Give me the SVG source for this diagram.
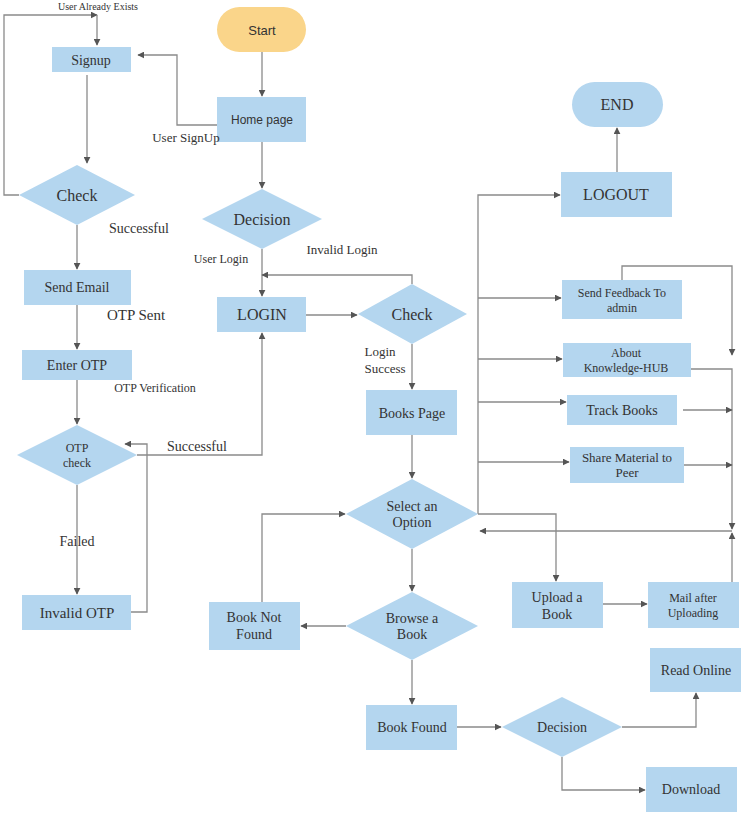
<svg xmlns="http://www.w3.org/2000/svg" width="756" height="825" viewBox="0 0 756 825">
<style>
.n{fill:#b4d6ef}
.t{font-family:"Liberation Serif",serif;fill:#333;text-anchor:middle}
.s{font-family:"Liberation Sans",Arial,sans-serif;fill:#333;text-anchor:middle}
.l{fill:none;stroke:#8a8a8a;stroke-width:1.3}
.a{marker-end:url(#ar)}
</style>
<defs><marker id="ar" viewBox="0 0 10 10" refX="9" refY="5" markerWidth="7" markerHeight="7" orient="auto" markerUnits="userSpaceOnUse"><path d="M0,0L10,5L0,10z" fill="#555"/></marker></defs>
<rect width="756" height="825" fill="#fff"/>
<g id="connectors">
<path class="l a" d="M262,52V96"/>
<path class="l a" d="M217,125H177V55H138"/>
<path class="l a" d="M87,75V163"/>
<path class="l a" d="M19,195H4V15H97"/>
<path class="l a" d="M97,15V45"/>
<path class="l a" d="M77,225V269"/>
<path class="l a" d="M77,305V349"/>
<path class="l a" d="M77,380V424"/>
<path class="l a" d="M77,485V594"/>
<path class="l a" d="M131,612H147V444H125"/>
<path class="l a" d="M137,455H262V333"/>
<path class="l a" d="M262,142V188"/>
<path class="l a" d="M262,249V296"/>
<path class="l a" d="M306,315H357"/>
<path class="l a" d="M412,284V275H262"/>
<path class="l a" d="M412,344V389"/>
<path class="l a" d="M412,435V478"/>
<path class="l a" d="M412,549V591"/>
<path class="l a" d="M346,626H301"/>
<path class="l a" d="M262,602V514H345"/>
<path class="l a" d="M412,660V704"/>
<path class="l a" d="M457,727H501"/>
<path class="l a" d="M622,727H696V693"/>
<path class="l a" d="M562,757V790H645"/>
<path class="l a" d="M478,514H556V581"/>
<path class="l a" d="M603,604H647"/>
<path class="l a" d="M732,582V533"/>
<path class="l a" d="M732,531H480"/>
<path class="l a" d="M478,514V195H560"/>
<path class="l a" d="M478,298H561"/>
<path class="l a" d="M478,359H562"/>
<path class="l a" d="M478,402H566"/>
<path class="l a" d="M478,462H569"/>
<path class="l a" d="M622,280V266H732V355"/>
<path class="l a" d="M691,369H732V529"/>
<path class="l a" d="M683,410H732"/>
<path class="l a" d="M684,465H732"/>
<path class="l a" d="M617,172V128"/>
</g>
<g id="start"><rect x="217" y="7" width="89" height="45" rx="22.5" fill="#fad58a"/><text class="s" x="262" y="35" font-size="13">Start</text></g>
<g id="home"><rect class="n" x="217" y="97" width="89" height="45"/><text class="s" x="262" y="124" font-size="12">Home page</text></g>
<g id="signup"><rect class="n" x="52" y="47" width="79" height="25"/><text class="t" x="91" y="65" font-size="14">Signup</text></g>
<g id="check1"><path class="n" d="M19,195L77,165L135,195L77,225z"/><text class="t" x="77" y="201" font-size="16">Check</text></g>
<g id="decision1"><path class="n" d="M202,219L262,189L322,219L262,249z"/><text class="t" x="262" y="225" font-size="16">Decision</text></g>
<g id="sendemail"><rect class="n" x="24" y="270" width="107" height="35"/><text class="t" x="77" y="292" font-size="14">Send Email</text></g>
<g id="enterotp"><rect class="n" x="22" y="350" width="110" height="30"/><text class="t" x="77" y="370" font-size="14">Enter OTP</text></g>
<g id="otpcheck"><path class="n" d="M17,455L77,425L137,455L77,485z"/><text class="t" x="77" y="452" font-size="12">OTP</text><text class="t" x="77" y="467" font-size="12">check</text></g>
<g id="invalidotp"><rect class="n" x="22" y="595" width="109" height="35"/><text class="t" x="77" y="618" font-size="15">Invalid OTP</text></g>
<g id="login"><rect class="n" x="217" y="297" width="89" height="35"/><text class="t" x="262" y="320" font-size="16">LOGIN</text></g>
<g id="check2"><path class="n" d="M358,314L412,284L467,314L412,344z"/><text class="t" x="412" y="320" font-size="16">Check</text></g>
<g id="bookspage"><rect class="n" x="366" y="390" width="91" height="45"/><text class="t" x="412" y="418" font-size="14">Books Page</text></g>
<g id="select"><path class="n" d="M346,514L412,479L478,514L412,549z"/><text class="t" x="412" y="511" font-size="14">Select an</text><text class="t" x="412" y="527" font-size="14">Option</text></g>
<g id="browse"><path class="n" d="M346,626L412,592L478,626L412,660z"/><text class="t" x="412" y="623" font-size="14">Browse a</text><text class="t" x="412" y="639" font-size="14">Book</text></g>
<g id="notfound"><rect class="n" x="209" y="602" width="91" height="48"/><text class="t" x="254" y="622" font-size="14">Book Not</text><text class="t" x="254" y="639" font-size="14">Found</text></g>
<g id="found"><rect class="n" x="366" y="705" width="91" height="45"/><text class="t" x="412" y="732" font-size="14">Book Found</text></g>
<g id="decision2"><path class="n" d="M502,727L562,697L622,727L562,757z"/><text class="t" x="562" y="732" font-size="14">Decision</text></g>
<g id="readonline"><rect class="n" x="650" y="648" width="91" height="44"/><text class="t" x="696" y="675" font-size="14">Read Online</text></g>
<g id="download"><rect class="n" x="646" y="767" width="91" height="45"/><text class="t" x="691" y="794" font-size="14">Download</text></g>
<g id="upload"><rect class="n" x="512" y="582" width="91" height="46"/><text class="t" x="557" y="602" font-size="14">Upload a</text><text class="t" x="557" y="619" font-size="14">Book</text></g>
<g id="mail"><rect class="n" x="648" y="582" width="91" height="46"/><text class="t" x="693" y="602" font-size="12">Mail after</text><text class="t" x="693" y="617" font-size="12">Uploading</text></g>
<g id="end"><rect x="572" y="82" width="91" height="45" rx="22.5" fill="#b4d6ef"/><text class="t" x="617" y="110" font-size="16">END</text></g>
<g id="logout"><rect class="n" x="561" y="172" width="111" height="45"/><text class="t" x="616" y="200" font-size="16">LOGOUT</text></g>
<g id="feedback"><rect class="n" x="562" y="280" width="120" height="39"/><text class="t" x="622" y="297" font-size="12">Send Feedback To</text><text class="t" x="622" y="312" font-size="12">admin</text></g>
<g id="about"><rect class="n" x="563" y="343" width="128" height="34"/><text class="t" x="626" y="357" font-size="12">About</text><text class="t" x="626" y="372" font-size="12">Knowledge-HUB</text></g>
<g id="track"><rect class="n" x="567" y="395" width="110" height="30"/><text class="t" x="622" y="415" font-size="14">Track Books</text></g>
<g id="share"><rect class="n" x="570" y="447" width="114" height="36"/><text class="t" x="627" y="462" font-size="13">Share Material to</text><text class="t" x="627" y="477" font-size="13">Peer</text></g>
<g id="labels" class="t">
<text x="98" y="10" font-size="10">User Already Exists</text>
<text x="186" y="142" font-size="13">User SignUp</text>
<text x="139" y="233" font-size="14">Successful</text>
<text x="136" y="320" font-size="15">OTP Sent</text>
<text x="155" y="392" font-size="12">OTP Verification</text>
<text x="197" y="451" font-size="14">Successful</text>
<text x="77" y="546" font-size="14">Failed</text>
<text x="221" y="263" font-size="12">User Login</text>
<text x="342" y="254" font-size="13">Invalid Login</text>
<text x="380" y="356" font-size="13">Login</text>
<text x="385" y="373" font-size="13">Success</text>
</g>
</svg>
